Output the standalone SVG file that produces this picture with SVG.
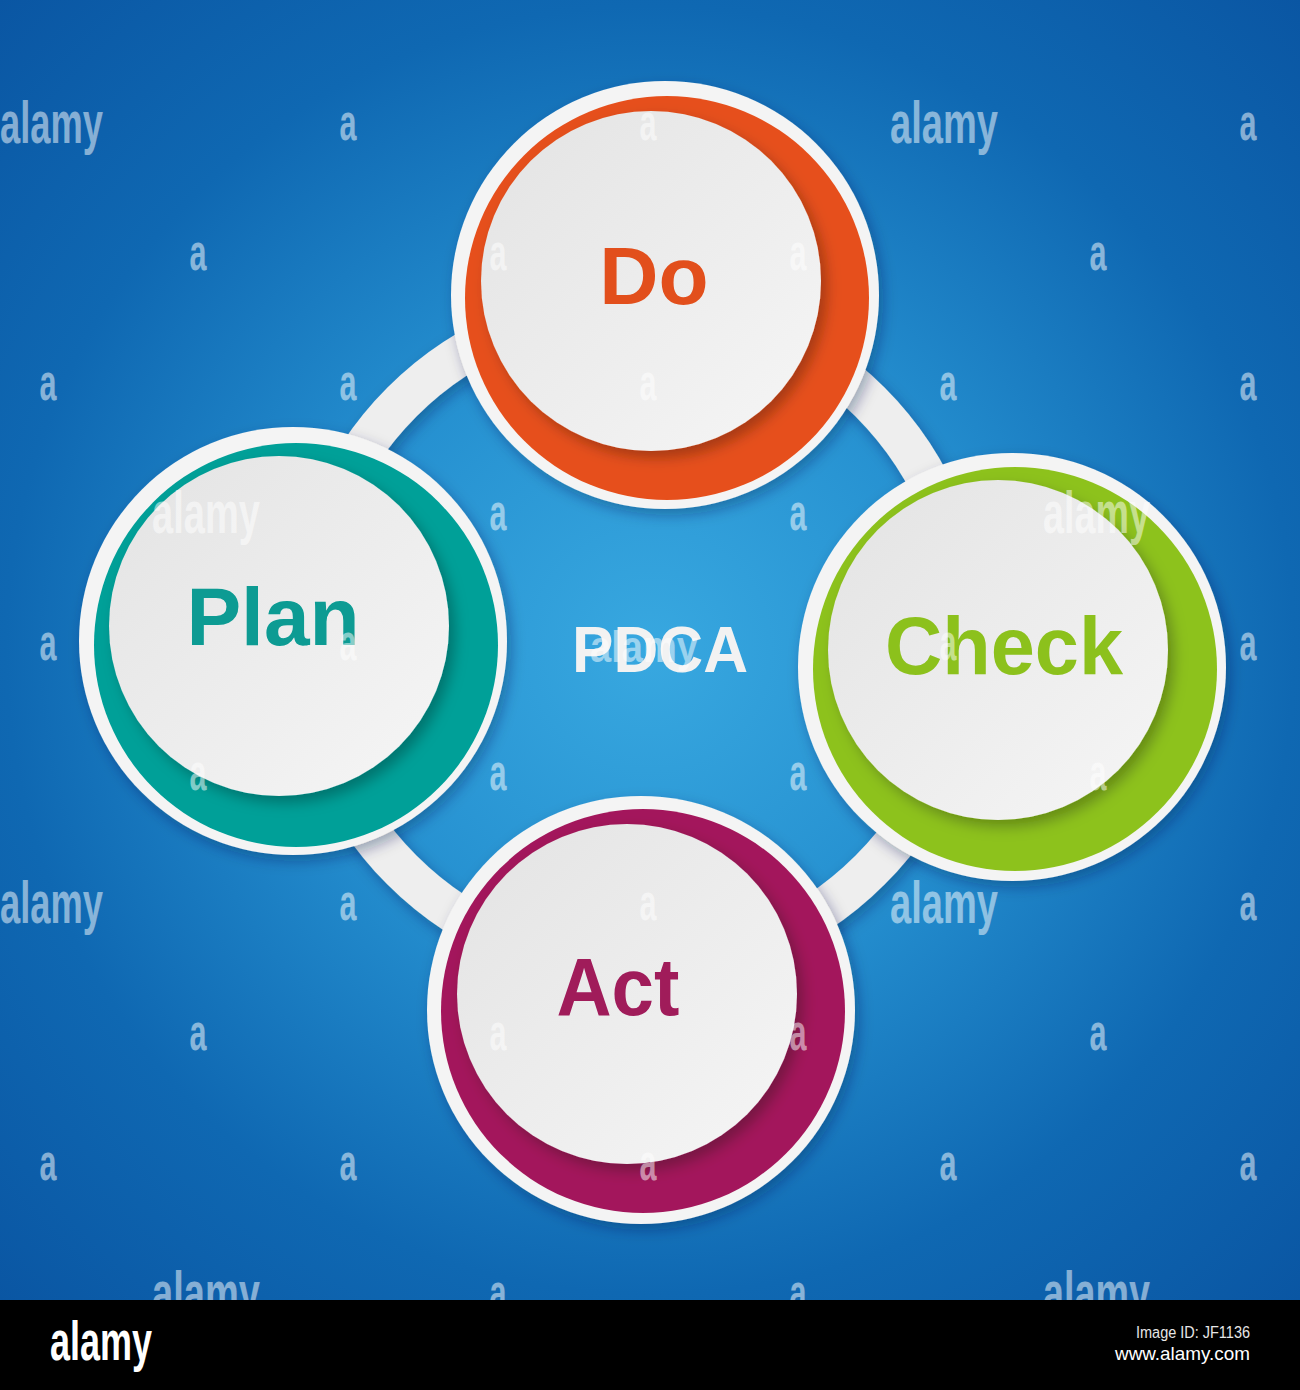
<svg xmlns="http://www.w3.org/2000/svg" width="1300" height="1390" viewBox="0 0 1300 1390">
<defs>
<radialGradient id="bg" gradientUnits="userSpaceOnUse" cx="650" cy="650" r="920">
<stop offset="0" stop-color="#38a8e0"/>
<stop offset="0.35" stop-color="#2590d0"/>
<stop offset="0.7" stop-color="#0f68b2"/>
<stop offset="1" stop-color="#0a56a3"/>
</radialGradient>
<linearGradient id="disc" x1="0" y1="0" x2="1" y2="1">
<stop offset="0" stop-color="#e3e3e3"/>
<stop offset="1" stop-color="#f6f6f6"/>
</linearGradient>
<filter id="sh" x="-20%" y="-20%" width="140%" height="140%">
<feDropShadow dx="4" dy="6" stdDeviation="7" flood-color="#00244d" flood-opacity="0.35"/>
</filter>
<filter id="ish" x="-20%" y="-20%" width="140%" height="140%">
<feDropShadow dx="6" dy="7" stdDeviation="7" flood-color="#000" flood-opacity="0.28"/>
</filter>
</defs>
<style>
.outer{fill:#f4f4f4}
.inner{fill:url(#disc);filter:url(#ish)}
.lbl{font-family:"Liberation Sans",Arial,sans-serif;font-weight:700;font-size:82px;text-anchor:middle}
.wm{font-family:"Liberation Sans",Arial,sans-serif;font-weight:700;fill:#fff;fill-opacity:0.5}
.wa{font-size:52px}
.ww{font-size:60px}
</style>
<rect x="0" y="0" width="1300" height="1300" fill="url(#bg)"/>
<g id="connectors">
<circle cx="636" cy="636" r="331" fill="none" stroke="#eeeeee" stroke-width="41" filter="url(#sh)"/>
</g>
<g id="node-do" filter="url(#sh)">
<circle class="outer" cx="665" cy="295" r="214"/>
<circle cx="667" cy="298" r="202" fill="#e6501c"/>
<circle class="inner" cx="651" cy="281" r="170"/>
<text class="lbl" x="654" y="304" fill="#e2501d">Do</text>
</g>
<g id="node-plan" filter="url(#sh)">
<circle class="outer" cx="293" cy="641" r="214"/>
<circle cx="296" cy="645" r="202" fill="#00a098"/>
<circle class="inner" cx="279" cy="626" r="170"/>
<text class="lbl" x="273" y="645" fill="#089b93">Plan</text>
</g>
<g id="node-check" filter="url(#sh)">
<circle class="outer" cx="1012" cy="667" r="214"/>
<circle cx="1015" cy="669" r="202" fill="#8dc21f"/>
<circle class="inner" cx="998" cy="650" r="170"/>
<text class="lbl" x="1004" y="674" fill="#8cc11f" textLength="238" lengthAdjust="spacingAndGlyphs">Check</text>
</g>
<g id="node-act" filter="url(#sh)">
<circle class="outer" cx="641" cy="1010" r="214"/>
<circle cx="643" cy="1011" r="202" fill="#a3195b"/>
<circle class="inner" cx="627" cy="994" r="170"/>
<text class="lbl" x="618" y="1015" fill="#a01a5a" textLength="123" lengthAdjust="spacingAndGlyphs">Act</text>
</g>
<g id="node-pdca">
<text x="660" y="672" font-family="Liberation Sans, Arial, sans-serif" font-weight="700" font-size="64" fill="#f2f2f2" text-anchor="middle" textLength="176" lengthAdjust="spacingAndGlyphs">PDCA</text>
</g>
<g id="watermark">
<text class="wm ww" x="0" y="143" textLength="103" lengthAdjust="spacingAndGlyphs">alamy</text>
<text class="wm ww" x="890" y="143" textLength="108" lengthAdjust="spacingAndGlyphs">alamy</text>
<text class="wm ww" x="152" y="533" textLength="108" lengthAdjust="spacingAndGlyphs">alamy</text>
<text class="wm ww" x="1043" y="533" textLength="107" lengthAdjust="spacingAndGlyphs">alamy</text>
<text class="wm ww" x="0" y="923" textLength="103" lengthAdjust="spacingAndGlyphs">alamy</text>
<text class="wm ww" x="890" y="923" textLength="108" lengthAdjust="spacingAndGlyphs">alamy</text>
<text class="wm ww" x="152" y="1313" textLength="108" lengthAdjust="spacingAndGlyphs">alamy</text>
<text class="wm ww" x="1043" y="1313" textLength="107" lengthAdjust="spacingAndGlyphs">alamy</text>
<text class="wm" x="590" y="662" font-size="44" fill-opacity="0.2" textLength="108" lengthAdjust="spacingAndGlyphs">alamy</text>
<g class="wm wa" text-anchor="middle">
<text x="348" y="140" textLength="17" lengthAdjust="spacingAndGlyphs">a</text>
<text x="648" y="140" textLength="17" lengthAdjust="spacingAndGlyphs">a</text>
<text x="1248" y="140" textLength="17" lengthAdjust="spacingAndGlyphs">a</text>
<text x="198" y="270" textLength="17" lengthAdjust="spacingAndGlyphs">a</text>
<text x="498" y="270" textLength="17" lengthAdjust="spacingAndGlyphs">a</text>
<text x="798" y="270" textLength="17" lengthAdjust="spacingAndGlyphs">a</text>
<text x="1098" y="270" textLength="17" lengthAdjust="spacingAndGlyphs">a</text>
<text x="48" y="400" textLength="17" lengthAdjust="spacingAndGlyphs">a</text>
<text x="348" y="400" textLength="17" lengthAdjust="spacingAndGlyphs">a</text>
<text x="648" y="400" textLength="17" lengthAdjust="spacingAndGlyphs">a</text>
<text x="948" y="400" textLength="17" lengthAdjust="spacingAndGlyphs">a</text>
<text x="1248" y="400" textLength="17" lengthAdjust="spacingAndGlyphs">a</text>
<text x="498" y="530" textLength="17" lengthAdjust="spacingAndGlyphs">a</text>
<text x="798" y="530" textLength="17" lengthAdjust="spacingAndGlyphs">a</text>
<text x="48" y="660" textLength="17" lengthAdjust="spacingAndGlyphs">a</text>
<text x="348" y="660" textLength="17" lengthAdjust="spacingAndGlyphs">a</text>
<text x="948" y="660" textLength="17" lengthAdjust="spacingAndGlyphs">a</text>
<text x="1248" y="660" textLength="17" lengthAdjust="spacingAndGlyphs">a</text>
<text x="198" y="790" textLength="17" lengthAdjust="spacingAndGlyphs">a</text>
<text x="498" y="790" textLength="17" lengthAdjust="spacingAndGlyphs">a</text>
<text x="798" y="790" textLength="17" lengthAdjust="spacingAndGlyphs">a</text>
<text x="1098" y="790" textLength="17" lengthAdjust="spacingAndGlyphs">a</text>
<text x="348" y="920" textLength="17" lengthAdjust="spacingAndGlyphs">a</text>
<text x="648" y="920" textLength="17" lengthAdjust="spacingAndGlyphs">a</text>
<text x="1248" y="920" textLength="17" lengthAdjust="spacingAndGlyphs">a</text>
<text x="198" y="1050" textLength="17" lengthAdjust="spacingAndGlyphs">a</text>
<text x="498" y="1050" textLength="17" lengthAdjust="spacingAndGlyphs">a</text>
<text x="798" y="1050" textLength="17" lengthAdjust="spacingAndGlyphs">a</text>
<text x="1098" y="1050" textLength="17" lengthAdjust="spacingAndGlyphs">a</text>
<text x="48" y="1180" textLength="17" lengthAdjust="spacingAndGlyphs">a</text>
<text x="348" y="1180" textLength="17" lengthAdjust="spacingAndGlyphs">a</text>
<text x="648" y="1180" textLength="17" lengthAdjust="spacingAndGlyphs">a</text>
<text x="948" y="1180" textLength="17" lengthAdjust="spacingAndGlyphs">a</text>
<text x="1248" y="1180" textLength="17" lengthAdjust="spacingAndGlyphs">a</text>
<text x="498" y="1310" textLength="17" lengthAdjust="spacingAndGlyphs">a</text>
<text x="798" y="1310" textLength="17" lengthAdjust="spacingAndGlyphs">a</text>
</g>
</g>
<g id="footer">
<rect x="0" y="1300" width="1300" height="90" fill="#000"/>
<text x="50" y="1360" font-family="Liberation Sans, Arial, sans-serif" font-weight="700" font-size="56" fill="#fff" textLength="102" lengthAdjust="spacingAndGlyphs">alamy</text>
<text x="1250" y="1338" font-family="Liberation Sans, Arial, sans-serif" font-size="16" fill="#e6e6e6" text-anchor="end" textLength="114" lengthAdjust="spacingAndGlyphs">Image ID: JF1136</text>
<text x="1250" y="1360" font-family="Liberation Sans, Arial, sans-serif" font-size="19" fill="#fff" text-anchor="end" textLength="135" lengthAdjust="spacingAndGlyphs">www.alamy.com</text>
</g>
</svg>
